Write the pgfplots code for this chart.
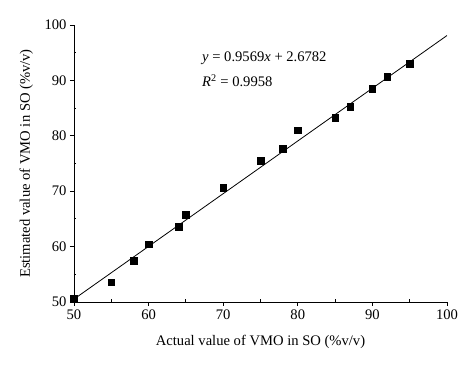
\documentclass[border=0pt]{standalone}
\usepackage{pgfplots}
\pgfplotsset{compat=1.18}
\usepackage{fontspec}
\setmainfont{Liberation Serif}
\begin{document}
\begin{tikzpicture}[font=\fontsize{14.6}{17}\selectfont]
\begin{axis}[
  scale only axis,
  width=373pt, height=277pt,
  xmin=50, xmax=100, ymin=50, ymax=100,
  axis x line*=bottom, axis y line*=left,
  axis line style={-, line width=0.8pt},
  xtick={50,60,...,100}, ytick={50,60,...,100},
  tick align=outside,
  major tick length=4pt,
  tick style={black, line width=0.8pt},
  minor tick num=0,
  extra x ticks={55,65,75,85,95},
  extra y ticks={55,65,75,85,95},
  extra x tick labels={}, extra y tick labels={},
  extra tick style={tick align=inside, major tick length=2.5pt},
  /pgf/number format/assume math mode=true,
  xlabel={Actual value of VMO in SO (\%v/v)},
  ylabel={Estimated value of VMO in SO (\%v/v)},
  x label style={at={(axis description cs:0.5,-0.144)}, anchor=center},
  y label style={at={(axis description cs:-0.128,0.5)}, anchor=center, rotate=0},
  clip=false,
]
\addplot[black, line width=0.8pt, no marks] coordinates {(50,50.5232) (100,98.1)};
\addplot[only marks, mark=square*, mark size=3.3pt, black] coordinates {
(50,50.7) (55,53.6) (58,57.5) (60,60.4) (64,63.6) (65,65.8) (70,70.6)
(75,75.5) (78,77.65) (80,81.0) (85,83.25) (87,85.2) (90,88.5) (92,90.65) (95,93.05)
};
\node[anchor=west, inner sep=0pt] at (axis cs:67.16,94.0) {\textit{y} = 0.9569\textit{x} + 2.6782};
\node[anchor=west, inner sep=0pt] at (axis cs:67.16,89.9) {\textit{R}\textsuperscript{2} = 0.9958};
\end{axis}
\path (-74pt,-64pt) rectangle (400pt,302pt);
\end{tikzpicture}
\end{document}
